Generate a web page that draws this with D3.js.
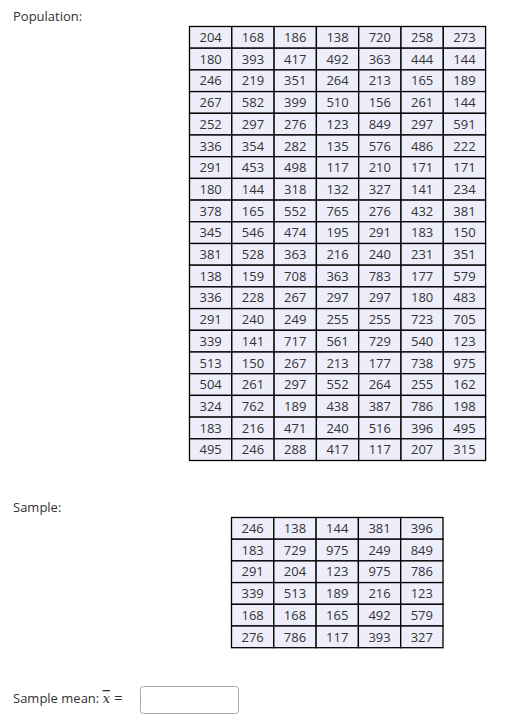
<!DOCTYPE html>
<html>
<head>
<meta charset="utf-8">
<script src="https://cdn.jsdelivr.net/npm/d3@7"></script>
<style>
  body { margin: 0; background: #fff; }
  svg text { font-family: "Open Sans", sans-serif; fill: #333; }
</style>
</head>
<body>
<div id="chart"></div>
<script>
const width = 517,
    height = 720;

// population grid, row by row
const population = [
    [204, 168, 186, 138, 720, 258, 273],
    [180, 393, 417, 492, 363, 444, 144],
    [246, 219, 351, 264, 213, 165, 189],
    [267, 582, 399, 510, 156, 261, 144],
    [252, 297, 276, 123, 849, 297, 591],
    [336, 354, 282, 135, 576, 486, 222],
    [291, 453, 498, 117, 210, 171, 171],
    [180, 144, 318, 132, 327, 141, 234],
    [378, 165, 552, 765, 276, 432, 381],
    [345, 546, 474, 195, 291, 183, 150],
    [381, 528, 363, 216, 240, 231, 351],
    [138, 159, 708, 363, 783, 177, 579],
    [336, 228, 267, 297, 297, 180, 483],
    [291, 240, 249, 255, 255, 723, 705],
    [339, 141, 717, 561, 729, 540, 123],
    [513, 150, 267, 213, 177, 738, 975],
    [504, 261, 297, 552, 264, 255, 162],
    [324, 762, 189, 438, 387, 786, 198],
    [183, 216, 471, 240, 516, 396, 495],
    [495, 246, 288, 417, 117, 207, 315]
];

const sample = [
    [246, 138, 144, 381, 396],
    [183, 729, 975, 249, 849],
    [291, 204, 123, 975, 786],
    [339, 513, 189, 216, 123],
    [168, 168, 165, 492, 579],
    [276, 786, 117, 393, 327]
];

const svg = d3.select("#chart")
    .append("svg")
    .attr("width", width)
    .attr("height", height);

function drawGrid(data, x0, y0, cellW, cellH) {
    const nCols = data[0].length, nRows = data.length;
    const x = d3.scaleBand().domain(d3.range(nCols)).range([x0, x0 + nCols * cellW]);
    const y = d3.scaleBand().domain(d3.range(nRows)).range([y0, y0 + nRows * cellH]);

    const cells = data.flatMap((row, r) => row.map((v, c) => ({ r, c, v })));
    const g = svg.append("g");

    g.selectAll("rect")
        .data(cells)
        .enter()
        .append("rect")
        .attr("x", d => x(d.c))
        .attr("y", d => y(d.r))
        .attr("width", x.bandwidth())
        .attr("height", y.bandwidth())
        .attr("fill", "#eeeefb")
        .attr("stroke", "#000")
        .attr("stroke-width", 1.3);

    g.selectAll("text")
        .data(cells)
        .enter()
        .append("text")
        .attr("x", d => x(d.c) + x.bandwidth() / 2)
        .attr("y", d => y(d.r) + y.bandwidth() / 2)
        .attr("dy", ".36em")
        .attr("text-anchor", "middle")
        .style("font-size", "13px")
        .text(d => d.v);
}

svg.append("text").attr("x", 13).attr("y", 21).style("font-size", "13px").text("Population:");
drawGrid(population, 189.5, 26.5, 42.3, 21.7);

svg.append("text").attr("x", 13).attr("y", 512).style("font-size", "13px").text("Sample:");
drawGrid(sample, 231.5, 517.5, 42.3, 21.7);

// sample mean line
const meanLine = svg.append("text").attr("x", 13).attr("y", 703).style("font-size", "13px");
meanLine.append("tspan").text("Sample mean: ");
meanLine.append("tspan").attr("font-family", "DejaVu Serif").style("font-style", "italic")
    .attr("text-decoration", "overline").text("x");
meanLine.append("tspan").attr("dx", 4).style("font-size", "15px").text("=");

svg.append("rect")
    .attr("x", 140.5).attr("y", 686.5)
    .attr("width", 98).attr("height", 27)
    .attr("rx", 3)
    .attr("fill", "#fff")
    .attr("stroke", "#aaa");
</script>
</body>
</html>
